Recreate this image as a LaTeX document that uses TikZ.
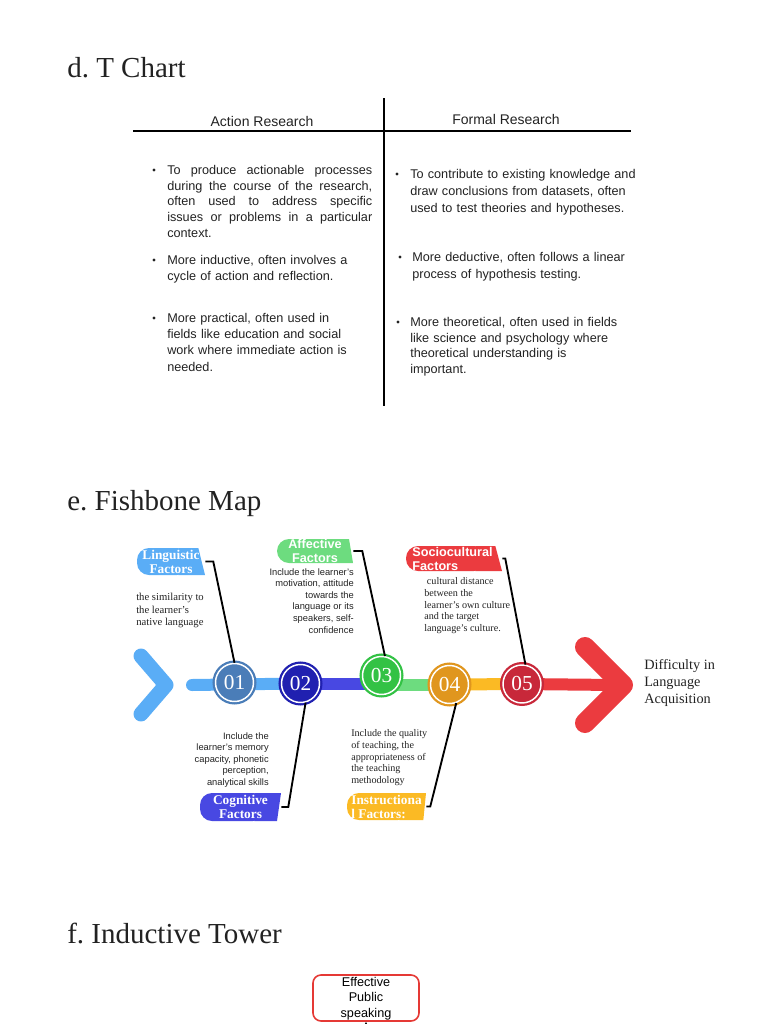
\documentclass[tikz,border=0pt]{standalone}
\usepackage{fontspec}
\setmainfont{Liberation Serif}
\setsansfont{Liberation Sans}
\usepackage{xcolor}
\usepackage{tikz}
\usetikzlibrary{calc,positioning,backgrounds,arrows.meta}
\definecolor{lingblue}{HTML}{5AADF6}
\definecolor{oneblue}{HTML}{4A7DB8}
\definecolor{twoblue}{HTML}{2020B0}
\definecolor{cogblue}{HTML}{4848E2}
\definecolor{threegreen}{HTML}{33C245}
\definecolor{affgreen}{HTML}{6DDC7F}
\definecolor{fourorange}{HTML}{E0961E}
\definecolor{insyellow}{HTML}{FBBA24}
\definecolor{fivered}{HTML}{C8283A}
\definecolor{socred}{HTML}{EB3B3F}
\definecolor{towerred}{HTML}{E53935}
\definecolor{ink}{HTML}{222222}
\frenchspacing

\begin{document}
\begin{tikzpicture}[x=0.75pt,y=-0.75pt,
  heading/.style={anchor=base west,inner sep=0,text=ink,font=\fontsize{21.75}{26}\selectfont},
  colhead/.style={inner sep=0,text=ink,font=\sffamily\fontsize{10.5}{12}\selectfont},
  cell/.style={anchor=north west,inner sep=0,align=left,text width=#1,text=ink,
    font=\sffamily\fontsize{9.5}{11.8}\selectfont},
  dot/.style={circle,fill=ink,inner sep=0,minimum size=2.3pt},
  rule/.style={line width=1.6pt},
  spine/.style={line width=9pt,line cap=round},
  chevron/.style={line cap=round,line join=round},
  num/.style={circle,fill=#1,draw=white,line width=1.1pt,minimum size=28.5pt,inner sep=0,
    preaction={draw=#1,line width=4.5pt},text=white,font=\fontsize{16}{16}\selectfont},
  factor/.style n args={3}{inner sep=0,text=white,
    path picture={
      \fill[#1,rounded corners=9pt] (path picture bounding box.north west)
        rectangle ([xshift=-12pt]path picture bounding box.south east);
      \fill[#1] ([xshift=-20pt]path picture bounding box.north east)
        -- ([xshift=-#2]path picture bounding box.north east)
        -- ([xshift=-#3]path picture bounding box.south east)
        -- ([xshift=-20pt]path picture bounding box.south east) -- cycle;}},
  serlab/.style={font=\bfseries\fontsize{10}{10.5}\selectfont},
  sanlab/.style={font=\sffamily\bfseries\fontsize{9.5}{10.5}\selectfont},
  serdesc/.style={inner sep=0,text=ink,font=\fontsize{7.6}{8.9}\selectfont},
  sandesc/.style={inner sep=0,text=ink,font=\sffamily\fontsize{7}{8.7}\selectfont},
  link/.style={line width=1.4pt},
  towerbox/.style={draw=towerred,line width=1.2pt,rounded corners=6pt,minimum width=79.5pt,
    minimum height=34.5pt,inner sep=0,align=center,font=\sffamily\fontsize{9.5}{11.3}\selectfont}]
\useasboundingbox (0,0) rectangle (768,1024);

\node[heading] (dtitle) at (67,78) {d. T Chart};
\draw[rule] (133,131) -- (631,131);
\draw[rule] (384,98) -- (384,406);
\node[colhead] (acthead) at (262,121) {Action Research};
\node[colhead] (formhead) at (506,119) {Formal Research};

\node[cell=153.75pt,align=justify] (act1) at (167,165) {To produce actionable processes\linebreak
  during the course of the research,\linebreak often used to address specific\linebreak
  issues or problems in a particular\linebreak context.};
\node[cell=160pt] (act2) at (167,255) {More inductive, often involves a\\cycle of action and reflection.};
\node[cell=160pt,font=\sffamily\fontsize{9.5}{12.2}\selectfont] (act3) at (167,313)
  {More practical, often used in\\fields like education and social\\work where immediate action is\\needed.};
\node[cell=180pt,font=\sffamily\fontsize{9.5}{12.7}\selectfont] (form1) at (410,169)
  {To contribute to existing knowledge and\\draw conclusions from datasets, often\\used to test theories and hypotheses.};
\node[cell=180pt,font=\sffamily\fontsize{9.5}{12.7}\selectfont] (form2) at (412,252)
  {More deductive, often follows a linear\\process of hypothesis testing.};
\node[cell=180pt] (form3) at (410,317)
  {More theoretical, often used in fields\\like science and psychology where\\theoretical understanding is\\important.};
\node[dot] (b1) at (154,170) {};
\node[dot] (b2) at (154,260) {};
\node[dot] (b3) at (154,318) {};
\node[dot] (b4) at (397,174) {};
\node[dot] (b5) at (400,257) {};
\node[dot] (b6) at (398,322) {};

\node[heading] (etitle) at (67,510) {e. Fishbone Map};
\node[num=oneblue] (c1) at (234.5,682.5) {01};
\node[num=twoblue] (c2) at (300.5,683.5) {02};
\node[num=threegreen] (c3) at (381.5,675.5) {03};
\node[num=fourorange] (c4) at (449.5,684.5) {04};
\node[num=fivered] (c5) at (522,684) {05};
\coordinate (tail) at (192,685);
\coordinate (head) at (615,685);
\begin{scope}[on background layer]
  \draw[spine,lingblue] (tail) -- (c2.center);
  \draw[spine,cogblue] (c2.center) -- (c3.center |- c2.center);
  \draw[spine,affgreen] (c3.center |- c4.center) -- (c4.center);
  \draw[spine,insyellow] (c4.center) -- (c5.center);
  \draw[spine,socred] (c5.center) -- (head);
\end{scope}
\draw[chevron,lingblue,line width=11.25pt] (141,656) -- (166,685) -- (141,714);
\draw[chevron,socred,line width=15pt] (585,647) -- (623,685) -- (585,723);

\node[factor={lingblue}{5pt}{0pt},minimum width=51pt,minimum height=20.25pt,serlab,align=center]
  (ling) at (171,561.5) {Linguistic\\Factors};
\node[factor={affgreen}{3pt}{0pt},minimum width=57pt,minimum height=18pt,sanlab,align=center]
  (aff) at (315,551) {Affective\\Factors};
\node[factor={socred}{5pt}{0pt},minimum width=72pt,minimum height=18.75pt,sanlab,align=left]
  (soc) at (454,558.5) {Sociocultural\\Factors\hspace*{28pt}};
\node[factor={cogblue}{0pt}{3pt},minimum width=60.75pt,minimum height=21pt,serlab,align=center]
  (cog) at (240.5,807) {Cognitive\\Factors};
\node[factor={insyellow}{0pt}{2pt},minimum width=59.25pt,minimum height=20.25pt,serlab,align=left]
  (ins) at (386.5,806.5) {Instructiona\\l Factors:\hspace*{10pt}};

\draw[link] (ling.east) -- ++(8,0) -- (c1.north);
\draw[link] (aff.east) -- ++(9,0) -- (c3.80);
\draw[link] (soc.east) -- ++(3,0) -- (c5.80);
\draw[link] (cog.east) -- ++(7,0) -- (c2.-75);
\draw[link] (ins.east) -- ++(4,0) -- (c4.-70);

\node[serdesc,anchor=north west,align=left,font=\fontsize{8}{9.4}\selectfont] (lingtxt) at (136,593)
  {the similarity to\\the learner’s\\native language};
\node[sandesc,anchor=north east,align=right] (afftxt) at (354,568)
  {Include the learner's\\motivation, attitude\\towards the\\language or its\\speakers, self-\\confidence};
\node[serdesc,anchor=north west,align=left] (soctxt) at (424,577)
  {\hspace*{2pt}cultural distance\\between the\\learner's own culture\\and the target\\language's culture.};
\node[sandesc,anchor=north east,align=right] (cogtxt) at (269,732)
  {Include the\\learner's memory\\capacity, phonetic\\perception,\\analytical skills};
\node[serdesc,anchor=north west,align=left] (instxt) at (351,729)
  {Include the quality\\of teaching, the\\appropriateness of\\the teaching\\methodology};
\node[anchor=north west,inner sep=0,align=left,text=ink,font=\fontsize{10.7}{13}\selectfont]
  (result) at (644,659) {Difficulty in\\Language\\Acquisition};

\node[heading] (ftitle) at (67,943) {f. Inductive Tower};
\node[towerbox] (tower) at (366,998) {\strut Effective\\Public\\speaking};
\coordinate (below) at (366,1050);
\draw[-{Stealth[length=7pt,width=7pt]},line width=2pt] (below) -- (tower.south);
\end{tikzpicture}
\end{document}
